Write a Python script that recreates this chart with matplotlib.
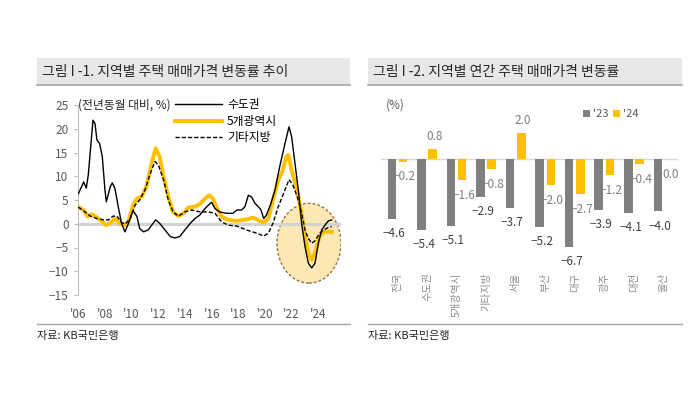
import matplotlib.pyplot as plt
from matplotlib.patches import Ellipse, Rectangle
from matplotlib.lines import Line2D

plt.rcParams['font.family'] = ['Noto Sans CJK KR', 'DejaVu Sans']

# ---- left chart data (YoY %) ----
seoul_t = [2006.0, 2006.25, 2006.4, 2006.6, 2006.75, 2007.1, 2007.25, 2007.4, 2007.6, 2007.8,
           2008.0, 2008.1, 2008.4, 2008.55, 2008.75, 2009.0, 2009.25, 2009.5, 2009.75, 2010.1,
           2010.4, 2010.6, 2010.9, 2011.25, 2011.5, 2011.8, 2012.1, 2012.5, 2012.9, 2013.25,
           2013.6, 2014.0, 2014.4, 2014.75, 2015.1, 2015.5, 2015.9, 2016.0, 2016.25, 2016.6,
           2017.1, 2017.6, 2017.9, 2018.25, 2018.5, 2018.75, 2019.0, 2019.25, 2019.5, 2019.7,
           2019.9, 2020.1, 2020.4, 2020.75, 2021.1, 2021.5, 2021.8, 2022.0, 2022.25, 2022.5,
           2022.75, 2023.0, 2023.25, 2023.5, 2023.75, 2024.0, 2024.25, 2024.5, 2024.75, 2025.0]
seoul_v = [6.3, 7.8, 8.8, 7.5, 10.3, 21.8, 21.1, 17.6, 16.9, 14.1,
           7.1, 4.6, 7.8, 8.6, 7.4, 3.5, 0.0, -1.7, 0.0, 2.8,
           1.5, -1.0, -1.7, -1.3, -0.3, 0.8, 0.1, -1.3, -2.7, -3.0,
           -2.7, -1.3, 0.1, 1.1, 1.8, 3.2, 4.3, 4.5, 3.2, 2.5,
           2.2, 2.2, 2.9, 2.9, 3.6, 6.0, 5.6, 4.3, 3.6, 2.9,
           1.1, 1.8, 3.9, 7.1, 12.0, 16.9, 20.4, 18.3, 12.7, 7.1,
           0.0, -4.8, -8.3, -9.3, -8.3, -4.1, -1.3, -0.3, 0.6, 0.8]

metro_t = [2006.0, 2006.4, 2006.7, 2007.0, 2007.25, 2007.6, 2008.1, 2008.5, 2008.75, 2009.1,
           2009.5, 2009.75, 2010.1, 2010.4, 2010.75, 2011.1, 2011.5, 2011.8, 2012.1, 2012.4,
           2012.75, 2013.1, 2013.5, 2013.9, 2014.25, 2014.75, 2015.1, 2015.5, 2015.8, 2016.1,
           2016.4, 2016.75, 2017.25, 2017.9, 2018.6, 2019.1, 2019.6, 2019.9, 2020.25, 2020.6,
           2021.0, 2021.3, 2021.6, 2021.75, 2022.0, 2022.4, 2022.75, 2023.0, 2023.25, 2023.5,
           2023.75, 2024.1, 2024.4, 2024.75, 2025.0]
metro_v = [3.5, 2.9, 1.5, 2.0, 1.6, 0.9, -0.3, 0.4, 1.1, 0.1,
           -0.3, 0.4, 3.9, 5.3, 5.7, 7.8, 12.7, 15.9, 14.1, 9.9,
           5.7, 2.5, 1.6, 2.2, 3.4, 3.6, 4.1, 5.3, 6.0, 5.3,
           3.2, 1.5, 0.8, 0.6, 0.9, 1.3, 0.6, 0.2, 1.1, 5.0,
           9.2, 11.0, 14.1, 14.5, 11.3, 7.1, 2.2, -2.7, -6.2, -7.6,
           -6.2, -2.7, -1.7, -1.7, -1.7]

other_t = [2006.0, 2006.5, 2006.9, 2007.4, 2007.9, 2008.25, 2008.6, 2008.9, 2009.2, 2009.5,
           2009.9, 2010.25, 2010.6, 2011.0, 2011.4, 2011.75, 2012.0, 2012.4, 2012.75, 2013.1,
           2013.5, 2014.0, 2014.5, 2015.1, 2015.75, 2016.25, 2016.75, 2017.25, 2017.9, 2018.6,
           2019.4, 2019.9, 2020.25, 2020.6, 2021.0, 2021.4, 2021.8, 2022.1, 2022.5, 2022.75,
           2023.0, 2023.25, 2023.5, 2023.75, 2024.1, 2024.4, 2024.75, 2025.0]
other_v = [3.5, 2.5, 1.6, 1.1, 0.8, 0.8, 1.6, 1.6, 0.4, -0.1,
           1.1, 3.9, 5.0, 7.1, 10.6, 13.1, 12.4, 9.2, 5.0, 2.5,
           1.6, 2.5, 2.9, 2.5, 2.5, 2.2, 0.4, -0.3, -0.5, -1.3,
           -2.0, -2.6, -2.0, 0.1, 3.6, 6.4, 9.3, 8.1, 5.0, 2.2,
           -1.3, -3.1, -4.1, -3.6, -2.0, -1.3, -0.8, -0.6]

year_ticks = list(range(2006, 2025, 2))
year_labels = ["'06", "'08", "'10", "'12", "'14", "'16", "'18", "'20", "'22", "'24"]

# ---- right chart data ----
regions = ['전국', '수도권', '5개광역시', '기타지방', '서울', '부산', '대구', '광주', '대전', '울산']
chg_23 = [-4.6, -5.4, -5.1, -2.9, -3.7, -5.2, -6.7, -3.9, -4.1, -4.0]
chg_24 = [-0.2, 0.8, -1.6, -0.8, 2.0, -2.0, -2.7, -1.2, -0.4, 0.0]

GRAY_TXT = '#595959'
YELLOW = '#FFC000'
BAR_GRAY = '#7F7F7F'

fig = plt.figure(figsize=(6.99, 3.93), dpi=100)

# title bars, bottom rules, sources
def px(x, y):
    return x / 699, 1 - y / 393

for x0, x1, title in [(37, 350, '그림 I -1. 지역별 주택 매매가격 변동률 추이'),
                      (368, 682, '그림 I -2. 지역별 연간 주택 매매가격 변동률')]:
    bx, by = px(x0, 85)
    fig.patches.append(Rectangle((bx, by), (x1 - x0) / 699, 27 / 393, transform=fig.transFigure,
                                 facecolor='#E7E7E7', edgecolor='none', zorder=0))
    fig.lines.append(Line2D([x0 / 699, x1 / 699], [by, by], transform=fig.transFigure,
                            color='#A6A6A6', lw=1.2))
    tx, ty = px(x0 + 5, 72)
    fig.text(tx, ty, title, fontsize=10, color='#262626', va='center', ha='left')
    ly = px(0, 324)[1]
    fig.lines.append(Line2D([x0 / 699, x1 / 699], [ly, ly], transform=fig.transFigure,
                            color='#A6A6A6', lw=1.0))
    sx, sy = px(x0, 336)
    fig.text(sx, sy, '자료: KB국민은행', fontsize=8, color='#262626', va='center', ha='left')

# ---- left chart ----
ax1 = fig.add_axes([78.3 / 699, 1 - 295 / 393, (341 - 78.3) / 699, 190 / 393])
ax1.set_xlim(2006, 2025.7)
ax1.set_ylim(-15, 25)

ax1.add_patch(Ellipse((2023.3, -4.1), 4.8, 16.8, facecolor='#FBE8B5', edgecolor='#9C6B3C',
                      linestyle=(0, (2, 1.5)), lw=1.0, zorder=1))
ax1.axhline(0, color='#D3D3D3', lw=2.2, zorder=1.5)

ax1.plot(seoul_t, seoul_v, color='black', lw=1.0, zorder=4, label='수도권')
ax1.plot(metro_t, metro_v, color=YELLOW, lw=2.8, zorder=3, label='5개광역시')
ax1.plot(other_t, other_v, color='black', lw=1.0, ls=(0, (3, 1.5)), zorder=5, label='기타지방')

ax1.set_yticks(range(-15, 30, 5))
ax1.set_xticks(year_ticks)
ax1.set_xticklabels(year_labels)
ax1.tick_params(axis='y', colors='#BFBFBF', labelcolor=GRAY_TXT, labelsize=8.5, length=3, pad=4)
ax1.tick_params(axis='x', length=0, labelcolor=GRAY_TXT, labelsize=8.5, pad=9)
for s in ['top', 'right', 'bottom']:
    ax1.spines[s].set_visible(False)
ax1.spines['left'].set_color('#BFBFBF')

ax1.text(0.0, 1.0, '(전년동월 대비, %)', transform=ax1.transAxes, fontsize=8.5,
         color='#262626', ha='left', va='center')
ax1.legend(loc='upper left', bbox_to_anchor=(0.35, 1.06), frameon=False, fontsize=8.5,
           handlelength=4.0, handletextpad=0.4, labelspacing=0.3, borderaxespad=0)

# ---- right chart ----
ax2 = fig.add_axes([381.2 / 699, 1 - 257.3 / 393, 297 / 699, 137.6 / 393])
ax2.set_xlim(-0.55, 9.5)
ax2.set_ylim(-7.5, 3.0)
xs = list(range(len(regions)))
w = 0.29
off = 0.19
ax2.bar([x - off for x in xs], chg_23, width=w, color=BAR_GRAY, label="'23", zorder=2)
ax2.bar([x + off for x in xs], chg_24, width=w, color=YELLOW, label="'24", zorder=2)
ax2.axhline(0, color='#D9D9D9', lw=1.0, zorder=1)

for x, v in zip(xs, chg_23):
    ax2.annotate(f'{v:.1f}'.replace('-', '−'), (x - off + 0.08, v), xytext=(0, -10.5),
                 textcoords='offset points', ha='center', va='center', fontsize=8.5, color='#404040')
for x, v in zip(xs, chg_24):
    dy = 9 if v > 0 else -11
    ax2.annotate(f'{v:.1f}'.replace('-', '−'), (x + off + 0.05, v), xytext=(0, dy),
                 textcoords='offset points', ha='center', va='center', fontsize=8.5, color='#7F7F7F')

ax2.set_xticks(xs)
ax2.set_xticklabels(regions, rotation=90, va='top', ha='center', fontsize=7.5, color='#8C8C8C')
ax2.tick_params(axis='x', length=0, pad=11)
ax2.set_yticks([])
for s in ax2.spines.values():
    s.set_visible(False)

fig.text(395 / 699, 1 - 105 / 393, '(%)', fontsize=8.5, color=GRAY_TXT, ha='center', va='center')
ax2.legend(loc='center left', bbox_to_anchor=(579 / 699, 1 - 114 / 393),
           bbox_transform=fig.transFigure, ncol=2, frameon=False, fontsize=8,
           handlelength=0.6, handleheight=0.6, handletextpad=0.3, columnspacing=0.4,
           borderaxespad=0, labelcolor=GRAY_TXT)

fig.savefig('out.png', dpi=100)
